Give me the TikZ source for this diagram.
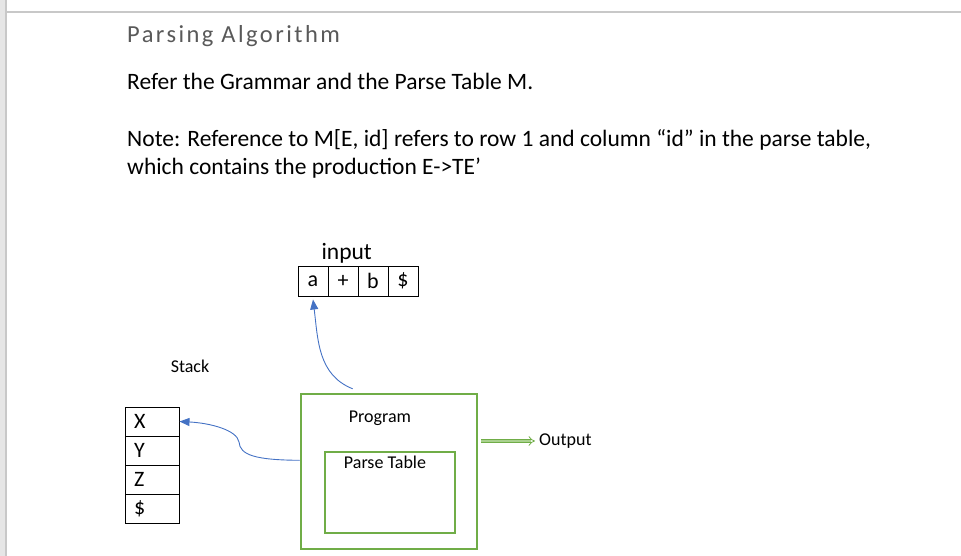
\documentclass[tikz,border=0pt]{standalone}
\usepackage{fontspec}
\setmainfont{Carlito}
\newfontfamily\titlefont[LetterSpace=10]{Carlito}
\usetikzlibrary{arrows.meta}
\definecolor{titlegrey}{RGB}{89,89,89}
\definecolor{rulegrey}{RGB}{200,200,200}
\definecolor{stripgrey}{RGB}{230,230,230}
\definecolor{boxgreen}{RGB}{112,173,71}
\definecolor{outfill}{RGB}{169,209,142}
\definecolor{arrowblue}{RGB}{68,114,196}

\begin{document}
\begin{tikzpicture}[x=1pt,y=-1pt,
	textline/.style={anchor=base west,inner sep=0pt,font=\fontsize{23.5}{28}\selectfont},
	titletext/.style={anchor=base west,inner sep=0pt,text=titlegrey,font=\titlefont\fontsize{24.5}{28}\selectfont},
	cell/.style={draw,line width=1pt,minimum width=30pt,minimum height=30pt,inner sep=0pt,font=\fontsize{22}{24}\selectfont},
	stackcell/.style={draw,line width=1pt,minimum width=54pt,minimum height=29pt,inner xsep=9pt,inner ysep=0pt,text width=36pt,align=left,font=\fontsize{22}{24}\selectfont},
	smalltext/.style={inner sep=0pt,font=\fontsize{18}{22}\selectfont},
	greenbox/.style={draw=boxgreen,line width=2pt,inner sep=0pt},
	link/.style={arrowblue,line width=0.9pt,-{Triangle[length=10pt,width=8pt]}}]
	\useasboundingbox (0,0) rectangle (961,556);
	\fill[stripgrey] (0,0) rectangle (6,556);
	\draw[rulegrey,line width=1.5pt] (6,0) -- (6,556);
	\draw[rulegrey,line width=1.5pt] (6,12) -- (961,12);

	\node[titletext] (title) at (127,43) {Parsing Algorithm};
	\node[textline] (refer) at (127,90) {Refer the Grammar and the Parse Table M.};
	\node[textline] (note) at (127,147) {Note: Reference to M[E, id] refers to row 1 and column “id” in the parse table,};
	\node[textline] (which) at (127,175) {which contains the production E->TE’};

	% input buffer
	\node[inner sep=0pt,font=\fontsize{23.5}{28}\selectfont] (inputname) at (346.7,253) {input};
	\node[cell] (ina) at (313,281) {a};
	\node[cell] (inplus) at (343,281) {+};
	\node[cell] (inb) at (373,281) {b};
	\node[cell] (indollar) at (403,281) {\$};

	% stack
	\node[smalltext] (stackname) at (190,366) {Stack};
	\node[stackcell] (sx) at (152,421.5) {X};
	\node[stackcell] (sy) at (152,450.5) {Y};
	\node[stackcell] (sz) at (152,479.5) {Z};
	\node[stackcell] (sdollar) at (152,508.5) {\$};

	% program and parse table
	\node[greenbox,minimum width=176pt,minimum height=155pt] (prog) at (388.7,471.3) {};
	\node[greenbox,minimum width=130.6pt,minimum height=81.3pt] (table) at (390,492.3) {};
	\node[smalltext] (progname) at (380,418) {Program};
	\node[smalltext] (tablename) at (385,462) {Parse Table};

	% output
	\node[smalltext,anchor=west] (out) at (539,441) {Output};
	\coordinate (outstart) at (481,441);
	\draw[boxgreen,line width=0.8pt,double=outfill,double distance=2.5pt,-{Implies},shorten >=4pt] (outstart) -- (out.west);

	\draw[link] ([xshift=-36pt,yshift=4pt]prog.north) .. controls (318,375) and (318,340) .. ([yshift=-3pt]ina.south);
	\draw[link] ([yshift=11pt]prog.west) .. controls (255,460) and (240,455) .. (239,442) .. controls (237,430) and (210,423) .. (sx.east);
\end{tikzpicture}
\end{document}
